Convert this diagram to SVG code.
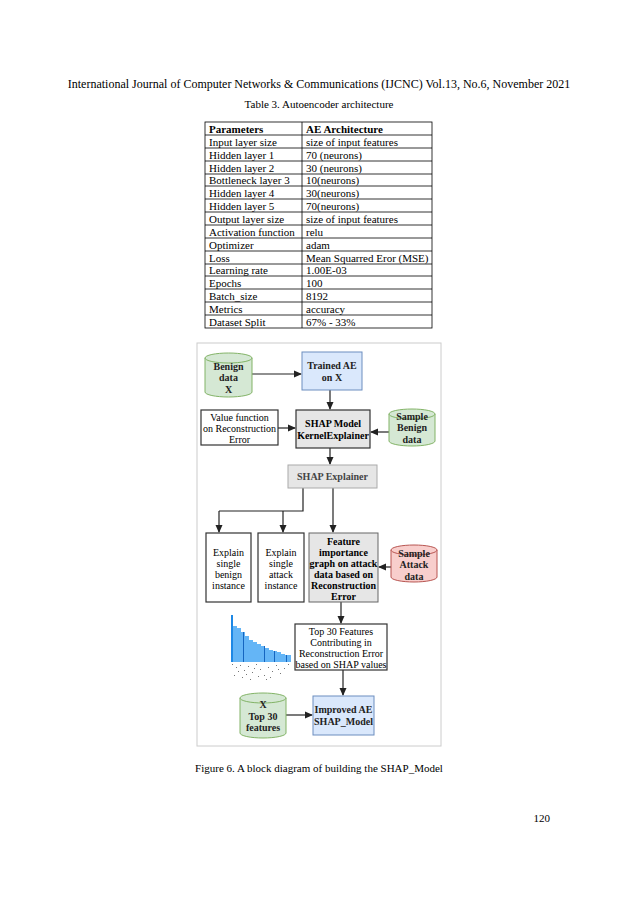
<svg xmlns="http://www.w3.org/2000/svg" width="638" height="903" viewBox="0 0 638 903">
<style>
text{font-family:"Liberation Serif",serif;fill:#000}
.t{font-size:11px}
.h{font-size:11px;font-weight:bold}
.n{font-size:10px;text-anchor:middle}
.b{font-size:10px;text-anchor:middle;font-weight:bold}
.c{fill:#222;font-size:10px;text-anchor:middle;font-weight:bold}
.box{stroke:#333;stroke-width:1.2}
.e{stroke:#222;stroke-width:1.2;fill:none;marker-end:url(#a)}
.grid line{stroke:#000;stroke-width:0.8}
</style>
<defs><marker id="a" markerWidth="8" markerHeight="8" refX="7" refY="4" orient="auto" markerUnits="userSpaceOnUse"><path d="M0,0.5 L8,4 L0,7.5 Z" fill="#222"/></marker></defs>
<rect width="638" height="903" fill="#fff"/>
<text x="319" y="88" text-anchor="middle" style="font-size:12px">International Journal of Computer Networks &amp; Communications (IJCNC) Vol.13, No.6, November 2021</text>
<text x="319" y="108" text-anchor="middle" style="font-size:11px">Table 3. Autoencoder architecture</text>
<g id="table">
<rect x="205" y="122" width="227" height="206" fill="none" stroke="#000" stroke-width="0.8"/>
<g class="grid">
<line x1="302" y1="122" x2="302" y2="328"/>
<line x1="205" y1="135" x2="432" y2="135"/><line x1="205" y1="148" x2="432" y2="148"/><line x1="205" y1="161" x2="432" y2="161"/><line x1="205" y1="174" x2="432" y2="174"/><line x1="205" y1="186" x2="432" y2="186"/><line x1="205" y1="199" x2="432" y2="199"/><line x1="205" y1="212" x2="432" y2="212"/><line x1="205" y1="225" x2="432" y2="225"/><line x1="205" y1="238" x2="432" y2="238"/><line x1="205" y1="251" x2="432" y2="251"/><line x1="205" y1="264" x2="432" y2="264"/><line x1="205" y1="276" x2="432" y2="276"/><line x1="205" y1="289" x2="432" y2="289"/><line x1="205" y1="302" x2="432" y2="302"/><line x1="205" y1="315" x2="432" y2="315"/>
</g>
<text class="h" x="209" y="133">Parameters</text><text class="h" x="306" y="133">AE Architecture</text>
<text class="t" x="209" y="146">Input  layer size</text><text class="t" x="306" y="146">size of input features</text>
<text class="t" x="209" y="159">Hidden layer 1</text><text class="t" x="306" y="159">70 (neurons)</text>
<text class="t" x="209" y="172">Hidden layer 2</text><text class="t" x="306" y="172">30 (neurons)</text>
<text class="t" x="209" y="184">Bottleneck layer 3</text><text class="t" x="306" y="184">10(neurons)</text>
<text class="t" x="209" y="197">Hidden layer 4</text><text class="t" x="306" y="197">30(neurons)</text>
<text class="t" x="209" y="210">Hidden layer 5</text><text class="t" x="306" y="210">70(neurons)</text>
<text class="t" x="209" y="223">Output layer size</text><text class="t" x="306" y="223">size of input features</text>
<text class="t" x="209" y="236">Activation function</text><text class="t" x="306" y="236">relu</text>
<text class="t" x="209" y="249">Optimizer</text><text class="t" x="306" y="249">adam</text>
<text class="t" x="209" y="262">Loss</text><text class="t" x="306" y="262">Mean Squarred Eror (MSE)</text>
<text class="t" x="209" y="274">Learning rate</text><text class="t" x="306" y="274">1.00E-03</text>
<text class="t" x="209" y="287">Epochs</text><text class="t" x="306" y="287">100</text>
<text class="t" x="209" y="300">Batch_size</text><text class="t" x="306" y="300">8192</text>
<text class="t" x="209" y="313">Metrics</text><text class="t" x="306" y="313">accuracy</text>
<text class="t" x="209" y="326">Dataset Split</text><text class="t" x="306" y="326">67% - 33%</text>
</g>
<rect x="197" y="343" width="244" height="403" fill="none" stroke="#ccc" stroke-width="1"/>
<g id="connectors">
<path class="e" d="M252,374 H301"/>
<path class="e" d="M330,390 V409"/>
<path class="e" d="M278,428 H295"/>
<path class="e" d="M389,432 H371"/>
<path class="e" d="M330,448 V464"/>
<path d="M303,488 V511 H219" fill="none" stroke="#222" stroke-width="1.2"/>
<path class="e" d="M219,511 V532"/>
<path class="e" d="M283,511 V532"/>
<path class="e" d="M333,488 V532"/>
<path class="e" d="M391,567 H379"/>
<path class="e" d="M341,602 V623"/>
<path class="e" d="M343,670 V695"/>
<path class="e" d="M286,715 H312"/>
</g>
<g id="benign">
<path d="M205,358 V392 A23.5,5 0 0 0 252,392 V358" fill="#d5e8d4" stroke="#82b366"/>
<ellipse cx="228.5" cy="358" rx="23.5" ry="5" fill="#d5e8d4" stroke="#82b366"/>
<text class="c" x="228.5" y="370">Benign</text><text class="c" x="228.5" y="381">data</text><text class="c" x="228.5" y="393">X</text>
</g>
<g id="trained"><rect x="302" y="352" width="60" height="38" fill="#dae8fc" stroke="#6c8ebf"/>
<text class="c" x="332" y="369">Trained AE</text><text class="c" x="332" y="381">on X</text></g>
<g id="valuefn"><rect class="box" x="201" y="410" width="77" height="35" fill="#fff"/>
<text class="n" x="239.5" y="421">Value function</text><text class="n" x="239.5" y="432">on Reconstruction</text><text class="n" x="239.5" y="443">Error</text></g>
<g id="shapmodel"><rect class="box" x="296" y="410" width="74" height="38" fill="#e6e6e6"/>
<text class="b" x="333" y="427">SHAP Model</text><text class="b" x="333" y="439">KernelExplainer</text></g>
<g id="samplebenign">
<path d="M389,414 V441 A23,5 0 0 0 435,441 V414" fill="#d5e8d4" stroke="#82b366"/>
<ellipse cx="412" cy="414" rx="23" ry="5" fill="#d5e8d4" stroke="#82b366"/>
<text class="c" x="412" y="420">Sample</text><text class="c" x="412" y="431">Benign</text><text class="c" x="412" y="443">data</text></g>
<g id="explainer"><rect x="288" y="465" width="89" height="23" fill="#e6e6e6" stroke="#aaa"/>
<text class="b" x="332.5" y="480" style="fill:#444">SHAP Explainer</text></g>
<g id="explbenign"><rect class="box" x="206" y="533" width="45" height="69" fill="#fff"/>
<text class="n" x="228.5" y="556">Explain</text><text class="n" x="228.5" y="567">single</text><text class="n" x="228.5" y="578">benign</text><text class="n" x="228.5" y="589">instance</text></g>
<g id="explattack"><rect class="box" x="258" y="533" width="46" height="69" fill="#fff"/>
<text class="n" x="281" y="556">Explain</text><text class="n" x="281" y="567">single</text><text class="n" x="281" y="578">attack</text><text class="n" x="281" y="589">instance</text></g>
<g id="featimp"><rect x="309" y="533" width="69" height="69" fill="#e6e6e6" stroke="#666"/>
<text class="b" x="343.5" y="545">Feature</text><text class="b" x="343.5" y="556">importance</text><text class="b" x="343.5" y="567">graph on attack</text><text class="b" x="343.5" y="578">data based on</text><text class="b" x="343.5" y="589">Reconstruction</text><text class="b" x="343.5" y="600">Error</text></g>
<g id="sampleattack">
<path d="M391,550 V577 A23,5 0 0 0 437,577 V550" fill="#f8cecc" stroke="#b85450"/>
<ellipse cx="414" cy="550" rx="23" ry="5" fill="#f8cecc" stroke="#b85450"/>
<text class="c" x="414" y="557">Sample</text><text class="c" x="414" y="568">Attack</text><text class="c" x="414" y="580">data</text></g>
<g id="chart">
<rect x="231" y="615" width="2" height="47" fill="#1e88e5"/>
<path d="M233,626 h4 v36 h-4z M237,628 h4 v34 h-4z M241,632 h4 v30 h-4z M245,636 h4 v26 h-4z M249,640 h4 v22 h-4z M253,642 h4 v20 h-4z M257,644 h4 v18 h-4z M261,646 h4 v16 h-4z M265,648 h4 v14 h-4z M269,650 h4 v12 h-4z M273,651 h4 v11 h-4z M277,652 h4 v10 h-4z M281,654 h4 v8 h-4z M285,655 h6 v7 h-6z" fill="#64b5f6"/>
<path d="M243,632 h1 v30 h-1z M264,646 h1 v16 h-1z M274,651 h1 v11 h-1z M286,655 h1 v7 h-1z" fill="#1565c0"/>
<g fill="#777">
<rect x="232" y="664" width="1" height="1"/><rect x="236" y="667" width="1" height="1"/><rect x="240" y="665" width="1" height="1"/><rect x="244" y="670" width="1" height="1"/><rect x="248" y="666" width="1" height="1"/><rect x="252" y="672" width="1" height="1"/><rect x="256" y="664" width="1" height="1"/><rect x="260" y="669" width="1" height="1"/><rect x="264" y="675" width="1" height="1"/><rect x="268" y="667" width="1" height="1"/><rect x="272" y="671" width="1" height="1"/><rect x="276" y="665" width="1" height="1"/><rect x="280" y="673" width="1" height="1"/><rect x="284" y="668" width="1" height="1"/><rect x="288" y="664" width="1" height="1"/><rect x="234" y="675" width="1" height="1"/><rect x="242" y="677" width="1" height="1"/><rect x="250" y="679" width="1" height="1"/><rect x="258" y="676" width="1" height="1"/><rect x="266" y="679" width="1" height="1"/><rect x="238" y="671" width="1" height="1"/><rect x="254" y="668" width="1" height="1"/><rect x="270" y="677" width="1" height="1"/><rect x="278" y="669" width="1" height="1"/><rect x="246" y="674" width="1" height="1"/>
</g></g>
<g id="top30"><rect class="box" x="295" y="624" width="92" height="46" fill="#fff"/>
<text class="n" x="341" y="635">Top 30 Features</text><text class="n" x="341" y="646">Contributing in</text><text class="n" x="341" y="657">Reconstruction Error</text><text class="n" x="341" y="668">based on SHAP values</text></g>
<g id="xtop30">
<path d="M240,698 V733 A23,5 0 0 0 286,733 V698" fill="#d5e8d4" stroke="#82b366"/>
<ellipse cx="263" cy="698" rx="23" ry="5" fill="#d5e8d4" stroke="#82b366"/>
<text class="c" x="263" y="708">X</text><text class="c" x="263" y="720">Top 30</text><text class="c" x="263" y="731">features</text></g>
<g id="improved"><rect x="313" y="696" width="61" height="39" fill="#dae8fc" stroke="#6c8ebf"/>
<text class="c" x="343.5" y="713">Improved AE</text><text class="c" x="343.5" y="725">SHAP_Model</text></g>
<text x="319" y="772" text-anchor="middle" style="font-size:11px">Figure 6. A block diagram of building the SHAP_Model</text>
<text x="550" y="822" text-anchor="end" style="font-size:11px">120</text>
</svg>
